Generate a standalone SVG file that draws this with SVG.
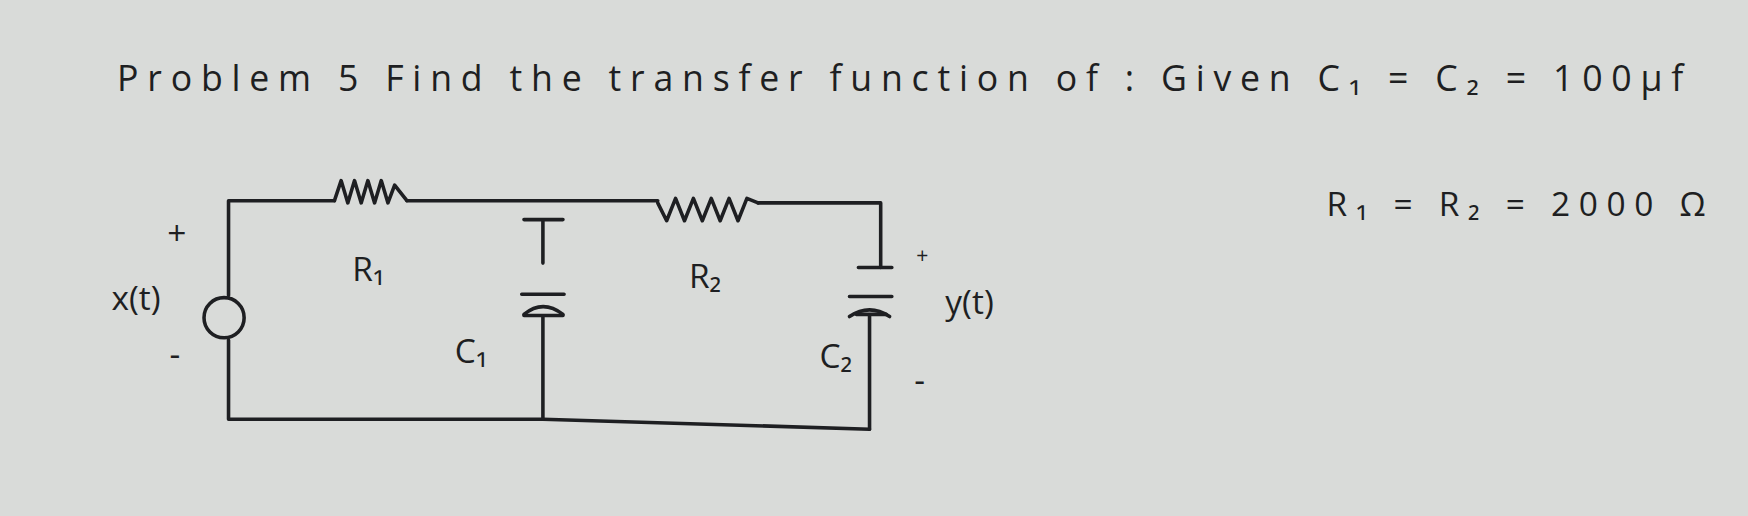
<svg xmlns="http://www.w3.org/2000/svg" width="1748" height="516" viewBox="0 0 1748 516">
<style>
.w{fill:none;stroke:#1e1f22;stroke-width:3.2;stroke-linecap:round;stroke-linejoin:round}
.t{font-family:"Open Sans","DejaVu Sans",sans-serif;fill:#1e1f22;font-size:30px}
.s{font-size:19px}
</style>
<rect width="1748" height="516" fill="#d9dbd9"/>
<g transform="scale(1.1148)">
<g id="title"><text class="t" x="105" y="82" style="font-size:32px" textLength="1405" lengthAdjust="spacing">Problem 5   Find the transfer function of : Given  C₁ = C₂ = 100μf</text></g>
<g id="given"><text class="t" x="1190" y="194" textLength="340" lengthAdjust="spacing">R₁ = R₂  = 2000 Ω</text></g>
<g id="connectors">
<path class="w" d="M205,265 V180 H300"/>
<path class="w" d="M365,180 H590"/>
<path class="w" d="M680,182 H790 V240"/>
<path class="w" d="M205,305 V376 H487 M487,376 L780,385"/>
<path class="w" d="M470,197 H505 M487,197 V236"/>
<path class="w" d="M487,283 V376 M470,283 H505"/>
<path class="w" d="M770,240 H800 M780,282 V385 M768,282 H795"/>
</g>
<g id="R1"><path class="w" d="M300,180 L306,162 L312,182 L318,162 L324,182 L330,162 L336,182 L342,162 L348,182 L354,166 L365,180"/><text class="t" x="316" y="252">R₁</text></g>
<g id="R2"><path class="w" d="M590,182 L598,198 L606,178 L614,198 L622,178 L630,198 L638,178 L646,198 L654,178 L662,198 L670,178 L680,182"/><text class="t" x="618" y="258">R₂</text></g>
<g id="C1"><path class="w" d="M468,264 H506 M470,282 Q487,268 505,282"/><text class="t" x="408" y="326">C₁</text></g>
<g id="C2"><path class="w" d="M762,266 H800 M762,284 Q780,272 798,284"/><text class="t" x="735" y="330">C₂</text></g>
<g id="source"><circle class="w" cx="201" cy="285" r="18"/>
<text class="t" x="150" y="220">+</text><text class="t" x="100" y="278">x(t)</text><text class="t" x="152" y="328">-</text></g>
<g id="output"><text class="t s" x="822" y="236">+</text><text class="t" x="848" y="282">y(t)</text><text class="t" x="820" y="352">-</text></g>
</g>
</svg>
